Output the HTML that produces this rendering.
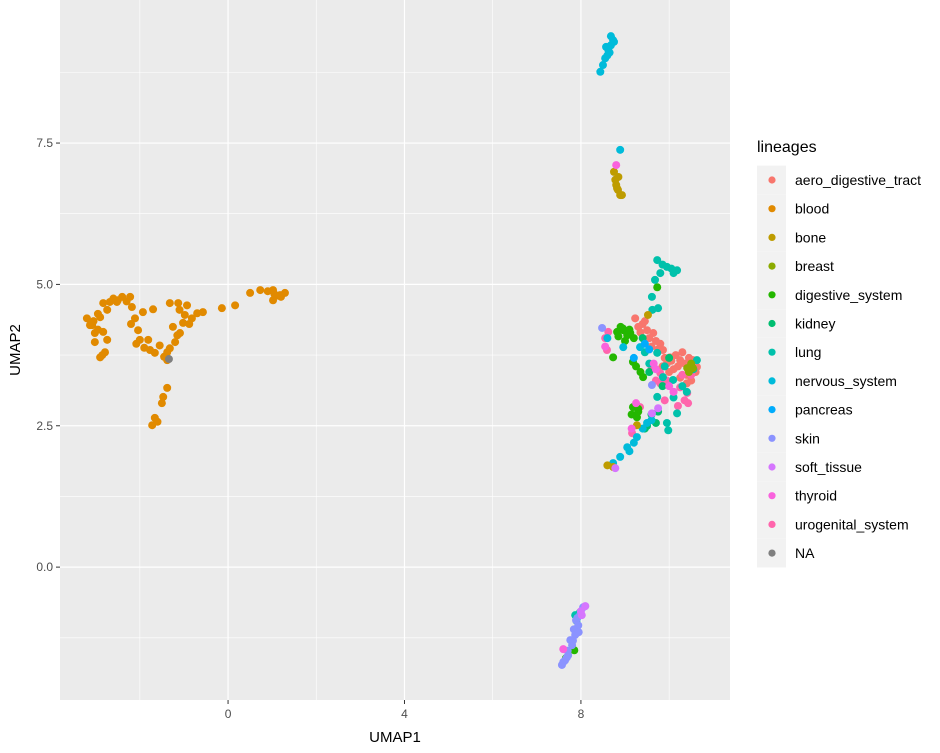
<!DOCTYPE html>
<html><head><meta charset="utf-8"><style>
body{margin:0;background:#fff;font-family:"Liberation Sans",sans-serif;}
svg text{font-family:"Liberation Sans",sans-serif;}
</style></head><body>
<svg id="c" width="940" height="748">
<rect x="0" y="0" width="940" height="748" fill="#fff"/>
<g id="panel"></g>
<g id="pts"></g>
<g id="axes"></g>
<text x="395" y="742" font-size="15" text-anchor="middle" fill="#000">UMAP1</text>
<text x="20" y="350" font-size="15" text-anchor="middle" fill="#000" transform="rotate(-90 20 350)">UMAP2</text>
<g id="legend"></g>
</svg>
<script>
const xTicks=[0,4,8];
const yTicks=[0,2.5,5,7.5];
const yTickLabels=["0.0","2.5","5.0","7.5"];
const xMinor=[-2,2,6,10];
const yMinor=[-1.25,1.25,3.75,6.25,8.75];
const lineages=["aero_digestive_tract","blood","bone","breast","digestive_system","kidney","lung","nervous_system","pancreas","skin","soft_tissue","thyroid","urogenital_system","NA"];
const colors=["#F8766D","#E18A00","#BE9C00","#8CAB00","#24B700","#00BE70","#00C1AB","#00BBDA","#00ACFC","#8B93FF","#D575FE","#F962DD","#FF65AC","#7F7F7F"];
const bloodX=[-3.13,-2.83,-2.68,-2.40,-2.22,-2.18,-2.74,-2.90,-3.08,-3.02,-3.02,-2.83,-2.74,-2.79,-2.90,-2.52,-1.93,-2.11,-2.04,-2.00,-1.81,-1.77,-1.66,-1.38,-1.38,-1.70,-1.32,-1.13,-0.93,-0.98,-1.02,-1.09,-1.20,-1.32,-0.82,-0.70,-0.57,-0.14,0.16,0.50,0.73,1.02,1.18,1.02,1.29,0.90,1.10,-1.38,-1.47,-1.50,-1.66,-1.72,-3.20,-2.95,-2.60,-2.30,-1.55,-1.25,-1.10,-3.05,-2.95,-2.85,-2.20,-2.08,-1.90,-1.45,-1.15,-0.88,1.20,1.05,-1.60,-2.50];
const bloodY=[4.28,4.67,4.69,4.78,4.78,4.60,4.55,4.42,4.28,4.14,3.98,4.16,4.02,3.80,3.71,4.69,4.51,4.40,4.19,4.02,4.02,3.84,3.79,3.80,3.66,4.56,4.67,4.67,4.63,4.46,4.32,4.14,3.98,3.87,4.40,4.49,4.51,4.58,4.63,4.85,4.90,4.90,4.81,4.72,4.85,4.88,4.80,3.17,3.01,2.90,2.64,2.51,4.40,4.48,4.75,4.70,3.92,4.25,4.55,4.35,4.20,3.75,4.30,3.95,3.88,3.72,4.10,4.30,4.78,4.83,2.57,4.72];
const aeroX=[9.23,9.50,9.86,10.25,10.54,10.63,10.02,9.64,9.40,9.70,10.10,10.40,9.95,10.30,9.30,10.50,9.80,10.20,9.35,9.55,9.60,9.75,9.90,10.05,10.15,10.35,10.45,10.60,10.00,9.85,9.45,10.25,10.55,10.40];
const aeroY=[4.40,4.19,3.84,3.66,3.66,3.54,3.71,4.14,4.30,4.00,3.50,3.40,3.60,3.80,4.25,3.30,3.95,3.55,4.15,4.05,3.90,3.85,3.70,3.65,3.75,3.60,3.70,3.45,3.45,3.55,4.35,3.35,3.55,3.25];
const urogX=[8.59,8.62,9.80,9.86,10.25,10.41,10.43,9.34,9.16,9.80,10.10,10.30,9.60,9.95,10.20,10.50,9.70,8.55,10.35,9.90];
const urogY=[3.84,4.16,3.43,3.25,3.18,3.08,2.90,2.83,2.37,3.25,3.10,3.40,3.55,3.30,2.85,3.40,3.30,4.05,2.95,2.95];
const thyroidX=[8.55,9.25,9.70,10.00,9.15,7.60,8.80,9.65,10.10];
const thyroidY=[3.90,2.90,3.50,3.20,2.45,-1.45,7.11,3.60,3.10];
const digestX=[8.96,9.12,8.82,9.18,9.41,9.18,9.27,8.73,8.90,9.05,9.00,9.30,9.35,7.85,7.66,9.73,8.85,8.95,9.10,9.20,9.15,9.30,9.25];
const digestY=[4.19,4.14,4.16,3.63,3.36,2.83,2.65,3.71,4.25,4.10,4.00,2.75,3.45,-1.47,-1.61,4.95,4.08,4.22,4.20,4.05,2.70,2.80,3.55];
const lungX=[9.73,9.95,10.18,9.80,9.68,9.61,9.75,9.73,9.86,10.09,9.73,10.18,9.95,9.98,10.63,10.30,10.05,7.87,7.98,9.90,10.10,9.85,10.10,9.62,9.55,9.45,10.40,10.55];
const lungY=[5.43,5.31,5.25,5.20,5.08,4.78,4.58,3.79,3.36,3.31,3.01,2.72,2.55,2.42,3.66,3.20,5.28,-0.85,-0.80,3.55,3.00,5.35,5.20,4.55,3.60,3.80,3.10,3.50];
const kidneyX=[9.60,9.70,9.50,9.40,9.85,9.55,7.90,10.00,9.75,9.45];
const kidneyY=[2.70,2.55,2.50,4.05,3.20,3.45,-0.95,3.70,2.75,2.45];
const nervousX=[8.44,8.50,8.55,8.62,8.68,8.73,8.68,8.75,8.57,8.89,9.34,8.96,9.50,9.27,9.05,8.89,8.73,9.40,9.60,8.60,9.20,9.10,8.65,8.60];
const nervousY=[8.76,8.88,9.00,9.15,9.23,9.32,9.39,9.29,9.20,7.38,3.89,3.89,2.55,2.30,2.12,1.95,1.84,2.45,2.60,4.05,2.20,2.05,9.10,9.05];
const pancreasX=[9.45,9.20,9.55];
const pancreasY=[3.95,3.70,3.85];
const boneX=[8.75,8.78,8.80,8.84,8.89,8.93,9.52,8.73,9.27,8.60,8.85,8.82];
const boneY=[6.99,6.85,6.76,6.67,6.58,6.58,4.46,1.77,2.51,1.80,6.90,6.70];
const breastX=[10.41,10.54,10.50,10.45];
const breastY=[3.52,3.52,3.60,3.45];
const skinX=[8.05,7.98,7.94,7.87,7.80,7.71,7.57,7.64,7.89,7.76,8.48,9.61,7.84,7.92,7.70,7.95,7.82,7.68,7.60];
const skinY=[-0.71,-0.85,-1.03,-1.20,-1.38,-1.56,-1.73,-1.65,-0.94,-1.29,4.23,3.22,-1.10,-0.90,-1.48,-1.15,-1.30,-1.60,-1.68];
const softX=[9.61,9.75,8.78,8.10,8.00,8.02];
const softY=[2.72,2.81,1.75,-0.69,-0.78,-0.85];
const naX=[-1.34];
const naY=[3.68];
const xmin=-3.81,xmax=11.38,ymin=-2.35,ymax=10.03;
const PL=60,PR=730,PT=0,PB=700;
function sx(v){return PL+(v-xmin)/(xmax-xmin)*(PR-PL);}
function sy(v){return PB-(v-ymin)/(ymax-ymin)*(PB-PT);}
const NS="http://www.w3.org/2000/svg";
function mk(t,a,p){const e=document.createElementNS(NS,t);for(const k in a)e.setAttribute(k,a[k]);p.appendChild(e);return e;}
const panel=document.getElementById('panel');
const bg=mk('rect',{x:PL,y:PT,width:PR-PL,height:PB-PT,fill:'#EBEBEB'},panel);


xMinor.forEach(v=>{const l=mk('line',{x1:sx(v),x2:sx(v),y1:PT,y2:PB,stroke:'#fff','stroke-width':0.6},panel);

});
yMinor.forEach(v=>{const l=mk('line',{x1:PL,x2:PR,y1:sy(v),y2:sy(v),stroke:'#fff','stroke-width':0.6},panel);

});
xTicks.forEach(v=>{const l=mk('line',{x1:sx(v),x2:sx(v),y1:PT,y2:PB,stroke:'#fff','stroke-width':1.2},panel);

});
yTicks.forEach(v=>{const l=mk('line',{x1:PL,x2:PR,y1:sy(v),y2:sy(v),stroke:'#fff','stroke-width':1.2},panel);

});
const axes=document.getElementById('axes');
xTicks.forEach(v=>{const t=mk('line',{x1:sx(v),x2:sx(v),y1:PB,y2:PB+4,stroke:'#333','stroke-width':1},axes);


const tx=mk('text',{x:sx(v),y:PB+18,'font-size':12,'text-anchor':'middle',fill:'#4D4D4D'},axes);tx.textContent=String(v);

});
yTicks.forEach((v,i)=>{const t=mk('line',{x1:PL-4,x2:PL,y1:sy(v),y2:sy(v),stroke:'#333','stroke-width':1},axes);


const tx=mk('text',{x:PL-7,y:sy(v)+4,'font-size':12,'text-anchor':'end',fill:'#4D4D4D'},axes);tx.textContent=yTickLabels[i];

});
const series=[[bloodX,bloodY,1],[aeroX,aeroY,0],[urogX,urogY,12],[digestX,digestY,4],[lungX,lungY,6],[kidneyX,kidneyY,5],[nervousX,nervousY,7],[pancreasX,pancreasY,8],[boneX,boneY,2],[breastX,breastY,3],[skinX,skinY,9],[softX,softY,10],[thyroidX,thyroidY,11],[naX,naY,13]];
const pts=document.getElementById('pts');
series.forEach(s=>{const xs=s[0],ys=s[1],c=colors[s[2]];xs.forEach((v,i)=>{
const p=mk('circle',{cx:sx(v),cy:sy(ys[i]),r:4,fill:c},pts);

});});
const lg=document.getElementById('legend');
const lt=mk('text',{x:757,y:152,'font-size':16,fill:'#000'},lg);lt.textContent='lineages';


lineages.forEach((n,i)=>{const y=180+i*28.7;
const k=mk('rect',{x:757,y:y-14.35,width:29,height:28.7,fill:'#F2F2F2'},lg);


const d=mk('circle',{cx:772,cy:y,r:3.6,fill:colors[i]},lg);


const t=mk('text',{x:795,y:y+5,'font-size':14,fill:'#000'},lg);t.textContent=n;

});
</script>
</body></html>
